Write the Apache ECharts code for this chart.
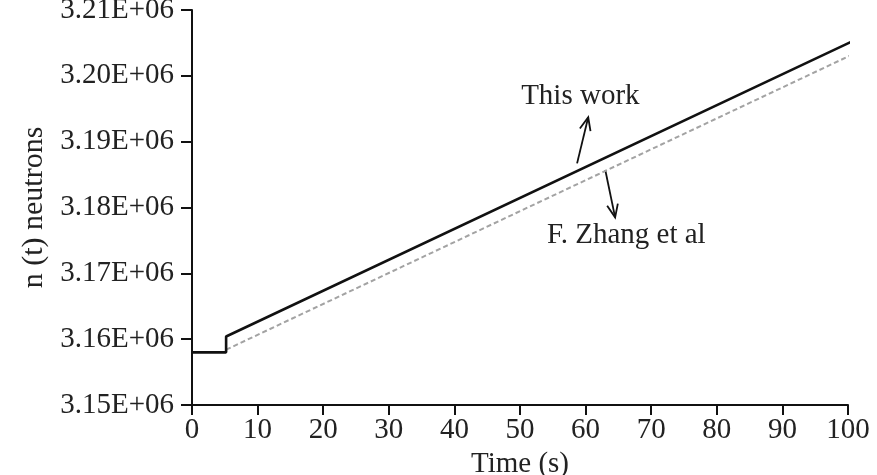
<!DOCTYPE html>
<html>
<head>
<meta charset="utf-8">
<script src="https://cdn.jsdelivr.net/npm/echarts@6/dist/echarts.min.js"></script>
<style>
  html, body { margin: 0; padding: 0; background: #fff; }
  #main { width: 877px; height: 475px; }
</style>
</head>
<body>
<div id="main"></div>
<script>
// this work: flat until the step, then linear rise
var timeThisWork = [0, 5.2, 5.2, 101];
var nThisWork = [3158000, 3158000, 3160400, 3205400];
// F. Zhang et al (dashed)
var timeZhang = [5.2, 101];
var nZhang = [3158400, 3203400];

// annotations: label position and arrow (from -> to), in data units
var labelThisWork = { text: 'This work', x: 59.2, y: 3196900 };
var arrowThisWork = [[58.7, 3186700], [60.4, 3193700]];
var labelZhang = { text: 'F. Zhang et al', x: 66.2, y: 3175800 };
var arrowZhang = [[63.0, 3185700], [64.5, 3178500]];

var FONT = "'Liberation Serif', 'DejaVu Serif', serif";

function pairs(xs, ys) {
    var out = [];
    for (var i = 0; i < xs.length; i++) out.push([xs[i], ys[i]]);
    return out;
}

var chart = echarts.init(document.getElementById('main'));

var option = {
    animation: false,
    grid: { left: 192, right: 29, top: 10, bottom: 70, outerBoundsMode: 'none', containLabel: false },
    xAxis: {
        type: 'value',
        min: 0,
        max: 100,
        interval: 10,
        name: 'Time (s)',
        nameLocation: 'middle',
        nameGap: 40,
        nameTextStyle: { fontFamily: FONT, fontSize: 29, color: '#222' },
        axisLine: { onZero: false, lineStyle: { color: '#111', width: 2 } },
        axisTick: { show: true, length: 10, lineStyle: { color: '#111', width: 2 } },
        axisLabel: { margin: 11, fontFamily: FONT, fontSize: 29, color: '#222' },
        splitLine: { show: false }
    },
    yAxis: {
        type: 'value',
        min: 3150000,
        max: 3210000,
        interval: 10000,
        name: 'n (t) neutrons',
        nameLocation: 'middle',
        nameGap: 143,
        nameTextStyle: { fontFamily: FONT, fontSize: 30, color: '#222' },
        axisLine: { show: true, lineStyle: { color: '#111', width: 2 } },
        axisTick: { show: true, length: 11, lineStyle: { color: '#111', width: 2 } },
        axisLabel: {
            margin: 18,
            fontFamily: FONT,
            fontSize: 29,
            color: '#222',
            formatter: function (v) { return (v / 1e6).toFixed(2) + 'E+06'; }
        },
        splitLine: { show: false }
    },
    series: [
        {
            name: 'This work',
            type: 'line',
            data: pairs(timeThisWork, nThisWork),
            showSymbol: false,
            clip: false,
            lineStyle: { color: '#111', width: 2.6 }
        },
        {
            name: 'F. Zhang et al',
            type: 'line',
            data: pairs(timeZhang, nZhang),
            showSymbol: false,
            clip: false,
            z: 1,
            lineStyle: { color: '#a3a3a3', width: 2, type: [5, 3] }
        }
    ]
};

chart.setOption(option);

// annotations placed through the chart's own coordinate system
function arrowShapes(a) {
    var p0 = chart.convertToPixel({ gridIndex: 0 }, a[0]);
    var p1 = chart.convertToPixel({ gridIndex: 0 }, a[1]);
    var ang = Math.atan2(p1[1] - p0[1], p1[0] - p0[0]);
    var len = 14, spread = 0.4;
    var w1 = [p1[0] - len * Math.cos(ang - spread), p1[1] - len * Math.sin(ang - spread)];
    var w2 = [p1[0] - len * Math.cos(ang + spread), p1[1] - len * Math.sin(ang + spread)];
    var style = { stroke: '#111', lineWidth: 1.8, fill: null };
    return [
        { type: 'polyline', shape: { points: [p0, p1] }, style: style },
        { type: 'polyline', shape: { points: [w1, p1, w2] }, style: style }
    ];
}

function textShape(l) {
    var p = chart.convertToPixel({ gridIndex: 0 }, [l.x, l.y]);
    return {
        type: 'text',
        x: p[0],
        y: p[1],
        style: {
            text: l.text,
            font: '29px ' + FONT,
            fill: '#222',
            align: 'center',
            verticalAlign: 'middle'
        }
    };
}

chart.setOption({
    graphic: [].concat(
        arrowShapes(arrowThisWork),
        arrowShapes(arrowZhang),
        [textShape(labelThisWork), textShape(labelZhang)]
    )
});
</script>
</body>
</html>
